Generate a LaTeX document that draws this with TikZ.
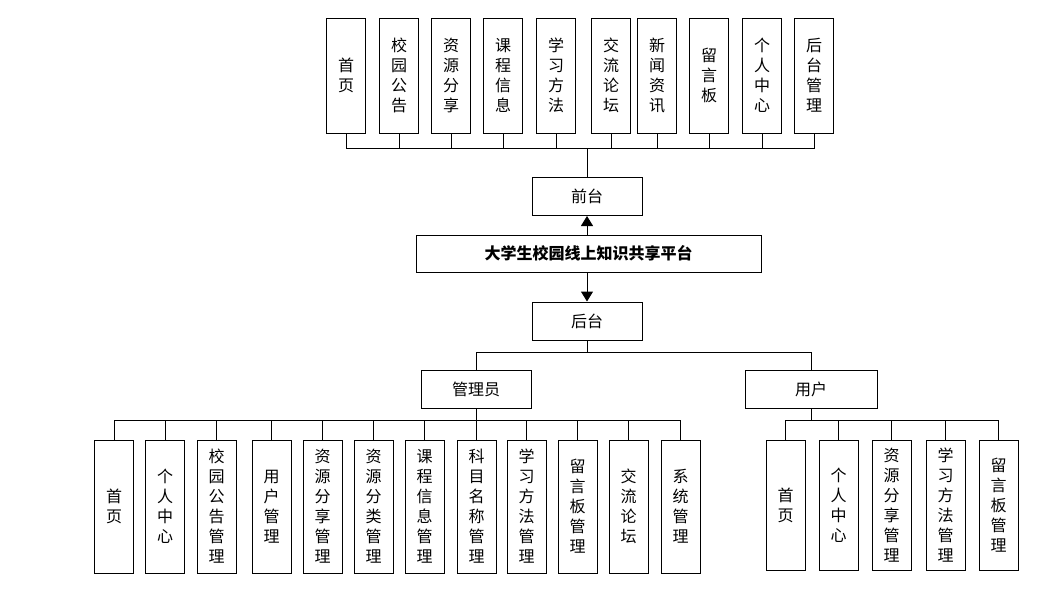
\documentclass[tikz,border=0pt]{standalone}
\usepackage{fontspec}
\setmainfont{Noto Sans CJK SC}
\usetikzlibrary{positioning, arrows.meta}
\tikzset{
  box/.style={draw, line width=1pt, minimum width=110pt, minimum height=38pt, font=\fontsize{16}{18}\selectfont},
  col/.style={draw, line width=1pt, minimum width=39pt, align=center, inner sep=0pt, font=\fontsize{16}{20}\selectfont},
  wire/.style={line width=1pt},
  tip/.style={line width=1pt, -{Triangle[length=10pt,width=12pt]}}
}
\begin{document}
\begin{tikzpicture}[x=1pt, y=-1pt]
    \useasboundingbox (0,0) rectangle (1037,598);

    % top row
    \foreach \x/\t [count=\i] in {346/首\\页, 399/校\\园\\公\\告, 451/资\\源\\分\\享, 503/课\\程\\信\\息, 556/学\\习\\方\\法, 611/交\\流\\论\\坛, 657/新\\闻\\资\\讯, 709/留\\言\\板, 762/个\\人\\中\\心, 814/后\\台\\管\\理}
        \node[col, minimum height=115pt] (t\i) at (\x, 75.5) {\t};

    % middle
    \node[box] (front) at (587, 196.5) {前台};
    \node[box, minimum width=345pt, minimum height=37pt, font=\fontsize{16}{18}\selectfont\bfseries] (main) at (588.5, 253.5) {大学生校园线上知识共享平台};
    \node[box] (back) at (587, 321) {后台};
    \node[box] (admin) at (476, 389) {管理员};
    \node[box, minimum width=132pt] (user) at (811, 389) {用户};

    % admin row
    \foreach \x/\t [count=\i] in {114/首\\页, 165/个\\人\\中\\心, 216.5/校\\园\\公\\告\\管\\理, 271.5/用\\户\\管\\理, 322.5/资\\源\\分\\享\\管\\理, 373.5/资\\源\\分\\类\\管\\理, 424.5/课\\程\\信\\息\\管\\理, 476.5/科\\目\\名\\称\\管\\理, 526.5/学\\习\\方\\法\\管\\理, 577.5/留\\言\\板\\管\\理, 628.5/交\\流\\论\\坛, 680.5/系\\统\\管\\理}
        \node[col, minimum height=133pt] (a\i) at (\x, 506.5) {\t};

    % user row
    \foreach \x/\t [count=\i] in {785.5/首\\页, 838.5/个\\人\\中\\心, 891.5/资\\源\\分\\享\\管\\理, 945.5/学\\习\\方\\法\\管\\理, 998.5/留\\言\\板\\管\\理}
        \node[col, minimum height=130pt] (u\i) at (\x, 505) {\t};

    % connectors
    \coordinate (tbus) at (587, 148);
    \foreach \i in {1,...,10}
        \draw[wire] (t\i.south) |- (tbus);
    \draw[wire] (tbus) -- (front.north);
    \draw[tip] (main.north -| front) -- (front.south);
    \draw[tip] (main.south -| back) -- (back.north);

    \coordinate (bbus) at (587, 352);
    \draw[wire] (back.south) -- (bbus);
    \draw[wire] (admin.north) |- (bbus);
    \draw[wire] (user.north) |- (bbus);

    \coordinate (abus) at (476, 420);
    \draw[wire] (admin.south) -- (abus);
    \foreach \i in {1,...,12}
        \draw[wire] (a\i.north) |- (abus);

    \coordinate (ubus) at (811, 420);
    \draw[wire] (user.south) -- (ubus);
    \foreach \i in {1,...,5}
        \draw[wire] (u\i.north) |- (ubus);
\end{tikzpicture}
\end{document}
